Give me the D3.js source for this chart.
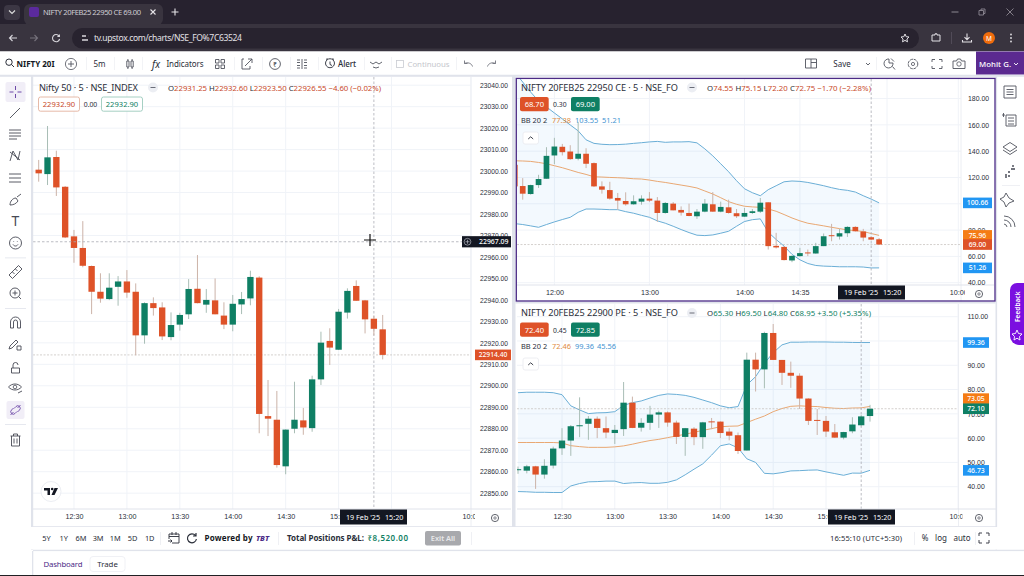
<!DOCTYPE html>
<html>
<head>
<meta charset="utf-8">
<script src="https://cdn.jsdelivr.net/npm/d3@7"></script>
<style>
  html, body { margin: 0; padding: 0; background: #fff; overflow: hidden; }
  svg { display: block; font-family: "Noto Sans", sans-serif; }
</style>
</head>
<body>
<div id="chart"></div>
<script>
// Nifty 50 candles, 12:10 to 15:25
const niftyOpen = [23000.66,22998.6,23006.56,22992.7,22969.6,22964.2,22955.8,22943.8,22940.4,22946.1,22948.6,22943.8,22923.5,22938.5,22936.5,22922.7,22928.5,22933.3,22945.2,22937.8,22939.8,22932.7,22928.5,22937.9,22940.7,22950.4,22885.9,22884.2,22862.5,22880,22883.9,22880.3,22903,22920.9,22916.8,22934.1,22946.5,22939.8,22931.25,22926.3];
const niftyHigh = [23005.2,23021,23009.5,22993,22972.6,22976.7,22956,22952.4,22952.4,22951.1,22953.9,22947.7,22938.9,22941.2,22938.9,22934.2,22934,22949.7,22960.9,22945.1,22950,22938.9,22942.3,22943.7,22953.6,22951,22902.7,22897.6,22879.7,22901.9,22889.7,22904.7,22925.2,22926.8,22935.8,22945.4,22949.1,22940,22932.6,22933];
const niftyLow = [22995.07,22993.5,22988.4,22968.8,22957.3,22955.2,22933.4,22938.7,22939.9,22937.3,22941,22914.2,22919.6,22932.7,22921.3,22921.2,22925.7,22931.1,22938.4,22934,22933.3,22926.4,22925.4,22933.4,22937.5,22877.9,22876.6,22861.9,22858.8,22877.9,22877.2,22878.6,22900.4,22909.7,22916.7,22931.3,22939.5,22924.4,22923.5,22912.3];
const niftyClose = [22998.95,23006.4,22992.4,22969.1,22964.2,22955.9,22943.8,22940.6,22945.7,22948.6,22943.4,22923.5,22938.5,22936.2,22923,22928.3,22933,22945.1,22938.5,22940,22933.3,22928.5,22938.2,22940.4,22950.7,22886.9,22884.7,22863.1,22879.6,22884.2,22880.6,22903,22920.1,22917.8,22934.5,22944.2,22939.6,22930.95,22926.55,22914.4];
const niftyPriceTicks = [22850,22860,22870,22880,22890,22900,22910,22920,22930,22940,22950,22960,22970,22980,22990,23000,23010,23020,23030,23040];
const niftyTimeTicks = ["12:30","13:00","13:30","14:00","14:30","15:00","09:15","10:00"];

// 22950 CE candles and bollinger band, 11:35 to 15:25
const ceOpen = [129.6,113.47,107.4,114.2,119,136.7,143.3,139.7,134.2,138,130.9,113.2,110.4,104.4,102.1,99.6,101.6,103.9,102.4,93,100.1,95.3,93,90.5,94,99.6,94,97.3,92.8,90.2,93,94,101.1,68,67.2,56.9,60.2,63,62.2,67.8,76.1,75.1,77.6,82.4,78.9,74.55,73];
const ceHigh = [129.6,119.5,114.5,122,143,150.1,145.5,144.5,162.2,142.2,131.4,117,116.7,108.2,108.7,106.4,106.4,108.9,105.1,101.3,101.3,98,100.1,96,103.6,108.9,101.6,103.1,96,96.8,96,104.4,101.1,77.9,67.8,60.7,66.5,65.2,70.3,77.4,84.7,80.9,82.9,82.9,80.9,75.15,74];
const ceLow = [113.2,103.1,106.9,112,119,130.1,136.7,133.4,133,127.1,112.7,107.7,103.1,95.5,98.6,99.3,99.3,101.3,86.2,92.5,95,91,90.5,88.5,93.5,93.8,93.5,92.5,89.2,90,92.2,93,65.2,66,56.9,55.6,59.7,60.2,62,67.8,71.5,72.8,74.8,78.9,71.5,72.2,68.8];
const ceClose = [113.2,107.66,114.2,118.8,136.4,143.5,139.2,133.9,138,130.4,113.2,110.7,103.9,102.4,99.6,101.9,103.9,102.4,93,100.6,95,93.3,90.7,94,100.1,94,97.6,93,90.5,93,94.3,100.8,67.8,66.8,57.2,60.4,62.5,62.5,67.8,75.3,75.6,77.6,82.4,79.1,74.3,72.75,69];
const ceUpper = [200,192.5,184.9,178.1,173.6,169,164.5,159.9,155.4,148.6,145.9,145.2,144.9,145,145.3,145.9,146.4,147,147.4,146.7,147,147,147.2,146.3,141.7,136.4,130.4,124.3,117.5,111.4,108.4,106.1,110.7,113.7,116.7,117.3,117,116.2,115,113.7,112.2,110.9,110.2,108.9,106.1,103.55,100.66];
const ceBasis = [132.66,132.5,132.2,131.4,130.4,128.9,127.4,125.6,123.8,122.3,120.5,120.3,120,119.8,119.5,119,118.8,118,117,116.2,115.2,114.2,113.2,112,109.7,107.4,104.6,101.6,99.6,98.1,97.6,97.3,96,94.3,91.8,89.2,87,85.2,84.2,83.2,82.1,81.1,80.1,79.6,78.9,77.38,75.96];
const ceLower = [84.9,84.2,83.2,82.1,84.2,86.2,88,89.7,93.5,96,96,95.8,95.5,95.5,94,92.8,91.2,89.7,87,85.2,82.9,80.4,78.1,76.1,75.8,76.3,77.6,79.1,82.9,86.5,87.9,88.5,78.4,72.8,67.8,61.5,57.4,54.6,53.1,52.6,52.4,52.1,52.1,52.1,51.9,51.21,51.26];
const cePriceTicks = [40,60,80,100,120,140,160,180];
const ceTimeTicks = ["12:00","13:00","14:00","14:35","09:15","10:00"];

// 22900 PE candles and bollinger band, 12:05 to 15:25
const peOpen = [46.9,46.6,48.4,45,48.7,55.8,59,65,65.9,68,64.1,62.1,63.7,74.6,64.3,66.3,69.7,70.6,66.4,60.5,63.9,60.4,66.9,66.8,62.7,61.2,54.9,92.3,88.3,103.3,92.2,86.9,85.7,76.3,67.5,67.1,62.4,60.2,62.8,65.3,69.1];
const peHigh = [48.3,49,48.6,51.3,56.5,64.1,65.4,76.8,69.1,68.9,68.9,65.4,83.1,77.1,68.2,73.3,71.3,71,67.2,64.2,64.5,66.7,68.3,66.9,64.1,62.3,95.2,95.2,103.8,107,92.2,91.5,86.7,76.4,72,69.1,65.8,62.6,68.6,69.5,73.7];
const peLow = [45.3,45.5,39.1,43.3,47.5,53.1,52.7,60.4,59.3,60,60,57.6,60.9,64.1,62.7,63.4,64.2,64.7,57.6,52.7,57.1,55.6,63.7,60,59.1,53.5,54.9,79.2,80.5,92.2,81.9,80.7,72,65.4,61.3,60.5,60.1,59.5,62,64.8,66.8];
const peClose = [47.2,48.4,45,48.6,55.7,59,64.9,65.3,68,64.2,62.3,63.4,74.6,64.2,66.3,69.7,70.6,66.4,60.5,64.1,60.4,66.5,66.7,62.1,61,54.7,92.3,88.3,103.3,92.2,86.9,85.7,76.3,67.1,67.2,62.7,60.2,62.5,65.6,68.95,72.1];
const peUpper = [78.7,78.9,78.9,78.9,78.7,77.9,73.3,71.6,70.1,70.4,70.5,70.9,73.5,74.6,75.3,76.5,77.6,78.2,78,77.6,76.8,75.7,74.6,73.3,72.5,73,81.9,85.3,90.8,95.2,98.4,99.5,99.5,99.6,99.6,99.6,99.5,99.5,99.4,99.36,99.36];
const peBasis = [58.2,58.2,58.2,58.2,58.2,58,56.9,56.5,56.2,56.2,56.2,56.4,56.8,57.5,58.3,59,59.5,60.2,60.9,61.6,62.4,63.2,63.9,64.7,64.9,65,66.4,67.8,69.1,70.9,72.2,73.1,73.3,73.1,73,72.6,72.3,72.2,72.4,72.46,73.05];
const peLower = [38,37.9,37.7,37.7,37.6,37.6,40.3,41.3,42,42.1,42.3,42.3,41.3,41.6,41.7,41.4,41.4,41.8,42.8,44.9,47.2,49.4,53,56.85,57.6,56,51.5,50,45.5,45.3,45.8,46.5,46.6,46.8,46.9,46.1,45.4,44.7,45.6,45.56,46.73];
const pePriceTicks = [40,50,60,70,80,90,100,110];
const peTimeTicks = ["12:30","13:00","13:30","14:00","14:30","15:00","09:15","10:00"];

const rangeButtons = ["5Y","1Y","6M","3M","1M","5D","1D"];

const upColor = "#0f7f64", downColor = "#de5228";
const gridColor = "#f0f3f8", paneLine = "#e0e3eb", textColor = "#2a2e39", toolColor = "#474a55";
const bandColor = "#6aaed6", basisColor = "#e9a873", orangeTag = "#f57c14", blueTag = "#2196f3";

const svg = d3.select("#chart").append("svg")
  .attr("width", 1024).attr("height", 576).attr("viewBox", "0 0 1024 576");
const defs = svg.append("defs");

function rect(g, x, y, w, h, fill, rx) {
  return g.append("rect").attr("x", x).attr("y", y).attr("width", w).attr("height", h)
    .attr("fill", fill).attr("rx", rx || 0);
}
function label(g, x, y, txt, size, fill, anchor, weight) {
  return g.append("text").attr("x", x).attr("y", y).text(txt)
    .attr("font-size", size).attr("fill", fill || textColor)
    .attr("text-anchor", anchor || "start").attr("font-weight", weight || 400);
}
function icon(g, x, y, d, stroke, sw) {
  return g.append("path").attr("transform", "translate(" + x + "," + y + ")").attr("d", d)
    .attr("fill", "none").attr("stroke", stroke || "#50535e").attr("stroke-width", sw || 0.9);
}
function slots(start, n) {
  // bar labels, five minutes apart
  const [h, m] = start.split(":").map(Number);
  return d3.range(n).map(i => {
    const t = h * 60 + m + i * 5;
    return d3.format("02")(Math.floor(t / 60)) + ":" + d3.format("02")(t % 60);
  });
}
const nextSession = slots("09:15", 10);

// one chart pane: grid, band, candles, axes
function drawPane(p) {
  const g = svg.append("g");
  const n = p.open.length;
  const x = d3.scalePoint().domain(slots(p.start, n).concat(nextSession)).range(p.xRange);
  const y = d3.scaleLinear().domain(p.yDomain).range(p.yRange);
  const at = i => x(x.domain()[i]);
  const clipId = "clip" + p.id;
  defs.append("clipPath").attr("id", clipId).append("rect")
    .attr("x", p.left).attr("y", p.top).attr("width", p.right - p.left).attr("height", p.bottom - p.top);
  defs.append("clipPath").attr("id", clipId + "t").append("rect")
    .attr("x", p.left).attr("y", p.bottom).attr("width", p.right - p.left + 4).attr("height", 20);

  // grid
  g.append("g").selectAll("line").data(p.priceTicks).join("line")
    .attr("x1", p.left).attr("x2", p.right).attr("y1", d => y(d)).attr("y2", d => y(d))
    .attr("stroke", gridColor);
  g.append("g").selectAll("line").data(p.timeTicks).join("line")
    .attr("x1", d => x(d)).attr("x2", d => x(d)).attr("y1", p.top).attr("y2", p.bottom)
    .attr("stroke", gridColor);

  const plot = g.append("g").attr("clip-path", "url(#" + clipId + ")");
  if (p.upper) {
    const idx = d3.range(n);
    plot.append("path").datum(idx).attr("fill", "#2196f3").attr("opacity", 0.055)
      .attr("d", d3.area().x(at).y0(i => y(p.lower[i])).y1(i => y(p.upper[i])));
    [[p.upper, bandColor], [p.lower, bandColor], [p.basis, basisColor]].forEach(b => {
      plot.append("path").datum(idx).attr("fill", "none").attr("stroke", b[1]).attr("stroke-width", 1)
        .attr("d", d3.line().x(at).y(i => y(b[0][i])));
    });
  }

  // price line and crosshair
  const lastClose = p.close[n - 1];
  plot.append("line").attr("x1", p.left).attr("x2", p.right).attr("y1", y(lastClose)).attr("y2", y(lastClose))
    .attr("stroke", "#c9c4c0").attr("stroke-dasharray", "2 1.5").attr("stroke-width", 0.8);
  plot.append("line").attr("x1", x(p.crossTime)).attr("x2", x(p.crossTime)).attr("y1", p.top).attr("y2", p.bottom)
    .attr("stroke", "#a9acb4").attr("stroke-dasharray", "2.5 2").attr("stroke-width", 0.8);

  // candles
  const bw = p.step * 0.72;
  const c = plot.append("g").selectAll("g").data(d3.range(n)).join("g");
  c.append("line").attr("x1", at).attr("x2", at)
    .attr("y1", i => y(p.high[i])).attr("y2", i => y(p.low[i]))
    .attr("stroke", i => p.close[i] >= p.open[i] ? "#a8bdb5" : "#ccb3a8").attr("stroke-width", 1);
  c.append("rect").attr("x", i => at(i) - bw / 2).attr("width", bw)
    .attr("y", i => y(Math.max(p.open[i], p.close[i])))
    .attr("height", i => Math.max(1, Math.abs(y(p.open[i]) - y(p.close[i]))))
    .attr("fill", i => p.close[i] >= p.open[i] ? upColor : downColor);

  // axes; labels that sit fully behind a tag are left out
  g.append("line").attr("x1", p.right).attr("x2", p.right).attr("y1", p.top).attr("y2", p.bottom + 17).attr("stroke", "#eceef3");
  g.append("line").attr("x1", p.left).attr("x2", p.axisEnd).attr("y1", p.bottom).attr("y2", p.bottom).attr("stroke", paneLine);
  const yAxis = g.append("g").attr("transform", "translate(" + p.right + ",0)")
    .call(d3.axisRight(y).tickValues(p.priceTicks).tickSize(0).tickPadding(p.tickPad)
      .tickFormat(d => p.hiddenPrices.includes(d) ? "" : d3.format(".2f")(d)));
  yAxis.select(".domain").remove();
  yAxis.selectAll("text").attr("font-size", p.tickSize).attr("font-family", "inherit").attr("fill", textColor);
  const xAxis = g.append("g").attr("clip-path", "url(#" + clipId + "t)").append("g")
    .attr("transform", "translate(0," + p.bottom + ")")
    .call(d3.axisBottom(x).tickValues(p.timeTicks).tickSize(0).tickPadding(5)
      .tickFormat(d => d === "09:15" ? "" : d));
  xAxis.select(".domain").remove();
  xAxis.selectAll("text").attr("font-size", 7.2).attr("font-family", "inherit").attr("fill", textColor);

  // time tag
  const tagY = p.bottom + 0.5;
  rect(g, p.tagX, tagY, 67, p.tagH, "#131722");
  label(g, p.tagX + 6, tagY + p.tagH / 2 + 2.6, "19 Feb '25", 7.2, "#fff");
  label(g, p.tagX + 45, tagY + p.tagH / 2 + 2.6, "15:20", 7.2, "#fff");

  // settings gear
  g.append("circle").attr("cx", p.gearX).attr("cy", p.gearY).attr("r", 3.6).attr("fill", "none").attr("stroke", "#50535e").attr("stroke-width", 0.9);
  g.append("circle").attr("cx", p.gearX).attr("cy", p.gearY).attr("r", 1.2).attr("fill", "none").attr("stroke", "#50535e").attr("stroke-width", 0.7);

  // header
  label(g, p.left + p.titleDx, p.titleY, p.title, p.titleSize, textColor).attr("textLength", p.titleW);
  g.append("circle").attr("cx", p.pillX).attr("cy", p.titleY - 3).attr("r", 5).attr("fill", "#eceef3");
  rect(g, p.pillX - 2.5, p.titleY - 3.5, 5, 1, "#6a6d78");
  const k = x.domain().indexOf(p.crossTime);
  const legCol = p.close[k] >= p.open[k] ? upColor : "#c8492a";
  const t = g.append("text").attr("x", p.ohlcX).attr("y", p.titleY).attr("font-size", 7.8).attr("fill", legCol).attr("textLength", p.ohlcW);
  [["O", p.open[k]], ["H", p.high[k]], ["L", p.low[k]], ["C", p.close[k]]].forEach(d => {
    t.append("tspan").attr("fill", textColor).text(d[0]);
    t.append("tspan").text(d[1].toFixed(2) + " ");
  });
  t.append("tspan").text(p.change);

  const tags = p.tags.map(d => ({ v: d[0], col: d[1], dy: d[2] || 0 }));
  tags.forEach(d => {
    rect(g, p.tagLeft, y(d.v) + d.dy - 5.3, p.tagW, 10.6, d.col);
    label(g, p.tagLeft + p.tagW / 2, y(d.v) + d.dy + 2.6, d.v.toFixed(2), p.tickSize, "#fff", "middle", 500);
  });
  return { g, x, y };
}

rect(svg, 0, 0, 1024, 576, "#ffffff");

const nifty = drawPane({
  id: "a", start: "12:10", open: niftyOpen, high: niftyHigh, low: niftyLow, close: niftyClose,
  xRange: [38.7, 470.9], yDomain: [22860, 23040], yRange: [471.7, 85.2], step: 8.82,
  left: 33, right: 471, top: 77, bottom: 509, axisEnd: 511, hiddenPrices: [],
  priceTicks: niftyPriceTicks, timeTicks: niftyTimeTicks, crossTime: "15:20", tickPad: 9, tickSize: 6.7,
  tagX: 340, tagH: 15, gearX: 495, gearY: 518,
  title: "Nifty 50 · 5 · NSE_INDEX", titleDx: 6, titleY: 90.5, titleSize: 9.2, titleW: 99, pillX: 153,
  ohlcX: 168, ohlcW: 213, change: "−4.60 (−0.02%)",
  tags: [[22914.4, downColor]], tagLeft: 475, tagW: 36
});
// crosshair level and pointer on the left pane
nifty.g.append("line").attr("x1", 33).attr("x2", 462).attr("y1", nifty.y(22967.09)).attr("y2", nifty.y(22967.09))
  .attr("stroke", "#a9acb4").attr("stroke-dasharray", "2.5 2").attr("stroke-width", 0.8);
rect(nifty.g, 462, nifty.y(22967.09) - 5.6, 49, 11.2, "#131722");
nifty.g.append("circle").attr("cx", 467.5).attr("cy", nifty.y(22967.09)).attr("r", 3.4).attr("fill", "none").attr("stroke", "#b2b5be").attr("stroke-width", 0.7);
icon(nifty.g, 467.5, nifty.y(22967.09), "M-2 0H2M0 -2V2", "#b2b5be", 0.7);
label(nifty.g, 479, nifty.y(22967.09) + 2.6, (22967.09).toFixed(2), 6.9, "#fff", "start", 500);
icon(nifty.g, 370, 240, "M-6 0H6M0 -6V6", "#111", 1.2);

const ce = drawPane({
  id: "b", start: "11:35", open: ceOpen, high: ceHigh, low: ceLow, close: ceClose,
  upper: ceUpper, basis: ceBasis, lower: ceLower,
  xRange: [514.8, 958.3], yDomain: [40, 180], yRange: [282.7, 98.5], step: 7.92,
  left: 517, right: 961, top: 79, bottom: 285, axisEnd: 994, hiddenPrices: [100],
  priceTicks: cePriceTicks, timeTicks: ceTimeTicks, crossTime: "15:20", tickPad: 7, tickSize: 6.9,
  tagX: 838, tagH: 14, gearX: 979, gearY: 294,
  title: "NIFTY 20FEB25 22950 CE · 5 · NSE_FO", titleDx: 4, titleY: 90.5, titleSize: 9.2, titleW: 157, pillX: 692,
  ohlcX: 707, ohlcW: 164, change: "−1.70 (−2.28%)",
  tags: [[100.66, blueTag], [75.96, orangeTag], [69, downColor], [51.26, blueTag]], tagLeft: 963, tagW: 29
});

const pe = drawPane({
  id: "c", start: "12:05", open: peOpen, high: peHigh, low: peLow, close: peClose,
  upper: peUpper, basis: peBasis, lower: peLower,
  xRange: [518, 958], yDomain: [40, 110], yRange: [486.7, 316.7], step: 8.8,
  left: 517, right: 958.5, top: 304, bottom: 509, axisEnd: 996, hiddenPrices: [100],
  priceTicks: pePriceTicks, timeTicks: peTimeTicks, crossTime: "15:20", tickPad: 9, tickSize: 6.9,
  tagX: 828, tagH: 15, gearX: 979, gearY: 518,
  title: "NIFTY 20FEB25 22900 PE · 5 · NSE_FO", titleDx: 4, titleY: 316, titleSize: 9.2, titleW: 157, pillX: 692,
  ohlcX: 707, ohlcW: 164, change: "+3.50 (+5.35%)",
  tags: [[99.36, blueTag], [73.05, orangeTag, -7.8], [72.1, upColor], [46.73, blueTag]], tagLeft: 963, tagW: 26
});

// bid / ask boxes
function quoteBoxes(x0, y0, bid, mid, ask, outlined) {
  const w = outlined ? 41 : 28.7, h = 14.2;
  const askX = outlined ? x0 + 63 : x0 + 51;
  if (outlined) {
    rect(svg, x0, y0, w, h, "#fff", 2).attr("stroke", "#e0a892").attr("stroke-width", 0.8);
    rect(svg, askX, y0, w, h, "#fff", 2).attr("stroke", "#8fc4b4").attr("stroke-width", 0.8);
  } else {
    rect(svg, x0, y0, w, h, downColor, 2);
    rect(svg, askX, y0, w, h, upColor, 2);
  }
  label(svg, x0 + w / 2, y0 + 10, bid, 7.6, outlined ? "#c8492a" : "#fff", "middle");
  label(svg, x0 + w + (askX - x0 - w) / 2, y0 + 10, mid, 6.8, textColor, "middle");
  label(svg, askX + w / 2, y0 + 10, ask, 7.6, outlined ? upColor : "#fff", "middle");
}
quoteBoxes(38.5, 97, "22932.90", "0.00", "22932.90", true);
quoteBoxes(520, 97, "68.70", "0.30", "69.00", false);
quoteBoxes(520, 322.5, "72.40", "0.45", "72.85", false);

// bollinger legends and collapse buttons
function bbLegend(y0, basis, upper, lower, lowerX) {
  label(svg, 521, y0, "BB 20 2", 7.4, textColor);
  label(svg, 552, y0, basis.toFixed(2), 7.4, "#e08a3c");
  label(svg, 575, y0, upper.toFixed(2), 7.4, "#3f93d1");
  label(svg, lowerX, y0, lower.toFixed(2), 7.4, "#3f93d1");
  rect(svg, 523, y0 + 9, 15.5, 12, "#fff", 2).attr("stroke", "#e8eaef").attr("stroke-width", 0.8);
  icon(svg, 530.7, y0 + 15, "M-2.5 1L0 -1.2L2.5 1", "#2a2e39", 0.9);
}
bbLegend(123, ceBasis[45], ceUpper[45], ceLower[45], 602);
bbLegend(349, peBasis[39], peUpper[39], peLower[39], 597);

// watermark logo
svg.append("circle").attr("cx", 51).attr("cy", 491.5).attr("r", 10).attr("fill", "#fff").attr("stroke", "#eceef3");
svg.append("path").attr("transform", "translate(51,491.5)").attr("fill", "#131722")
  .attr("d", "M-7 -3.5H-1V3.5H-3.5V-1H-7ZM3.5 -3.5H7L3.5 3.5H0.5Z");
svg.append("circle").attr("cx", 1.2 + 51).attr("cy", 489).attr("r", 1.3).attr("fill", "#131722");

// separators around panes
rect(svg, 31, 75, 2.2, 475, paneLine);
rect(svg, 0, 74.5, 1024, 2.3, paneLine);
rect(svg, 512, 76, 3.5, 451, paneLine);
rect(svg, 995.5, 76, 1.6, 475, paneLine);
rect(svg, 33, 526, 963, 0.8, paneLine);
rect(svg, 33, 549.5, 991, 1.8, paneLine);
rect(svg, 515.5, 301.5, 480, 2, paneLine);
svg.append("rect").attr("x", 516.3).attr("y", 78.4).attr("width", 478.7).attr("height", 222.6)
  .attr("fill", "none").attr("stroke", "#4b2a86").attr("stroke-width", 1.3);

// browser chrome
rect(svg, 0, 0, 1024, 24, "#27222f");
rect(svg, 0, 24, 1024, 27.5, "#39343f");
rect(svg, 24, 4, 139, 21, "#39343f", 6);
rect(svg, 4, 5, 16, 15, "#3c3744", 4);
icon(svg, 12, 12, "M-3 -1.5L0 1.5L3 -1.5", "#ddd", 1.1);
rect(svg, 29, 7, 10, 10, "#5b2a9d", 2);
label(svg, 43, 15, "NIFTY 20FEB25 22950 CE 69.00", 7.6, "#cfcdd3").attr("textLength", 98);
icon(svg, 153, 12, "M-2.5 -2.5L2.5 2.5M2.5 -2.5L-2.5 2.5", "#e6e4e8", 1.1);
icon(svg, 175, 12, "M-3.5 0H3.5M0 -3.5V3.5", "#e6e4e8", 1.1);
rect(svg, 72, 28, 847, 20.5, "#28232f", 10);
icon(svg, 13, 38, "M4 0H-3.5M-0.5 -3L-3.5 0L-0.5 3", "#d8d6dc", 1.1);
icon(svg, 34, 38, "M-4 0H3.5M0.5 -3L3.5 0L0.5 3", "#76727c", 1.1);
icon(svg, 56, 38, "M3 -2A3.6 3.6 0 1 0 3.6 1M3.4 -3.6V-1.6H1.4", "#d8d6dc", 1.1);
icon(svg, 85, 38, "M-3 -2H1M-3 2H3M3 -2H3.1M-3 2H-2.9", "#d8d6dc", 1.3);
label(svg, 94, 41, "tv.upstox.com/charts/NSE_FO%7C63524", 8.6, "#e3e1e6").attr("textLength", 148);
icon(svg, 905, 38, "M0 -4L1.2 -1.3L4 -1L1.9 1L2.5 3.8L0 2.4L-2.5 3.8L-1.9 1L-4 -1L-1.2 -1.3Z", "#e3e1e6", 1);
icon(svg, 936, 38, "M-4 -3H-1V-4.2H1V-3H4V3H-4Z", "#e3e1e6", 1);
rect(svg, 951, 32, 0.7, 12, "#5c5763");
icon(svg, 967, 38, "M0 -4.5V1.5M-2.5 -0.8L0 1.8L2.5 -0.8M-4.5 2V4H4.5V2", "#e3e1e6", 1.1);
svg.append("circle").attr("cx", 989).attr("cy", 38).attr("r", 6).attr("fill", "#f06c0c");
label(svg, 989, 40.5, "M", 6.5, "#fff", "middle");
svg.append("g").selectAll("circle").data([-3.5, 0, 3.5]).join("circle")
  .attr("cx", 1011).attr("cy", d => 38 + d).attr("r", 0.9).attr("fill", "#e3e1e6");
icon(svg, 955, 12, "M-3.5 0H3.5", "#8d8993", 1);
icon(svg, 982, 12, "M-3 -1.5H1.5V3H-3ZM-1 -1.5V-3H3V1.5H1.5", "#8d8993", 0.9);
icon(svg, 1010, 12, "M-3.5 -3.5L3.5 3.5M3.5 -3.5L-3.5 3.5", "#8d8993", 0.9);

// top toolbar
rect(svg, 0, 51.5, 1024, 23, "#fff");
icon(svg, 10, 63, "M-1 -4A3.2 3.2 0 1 1 -1 2.4A3.2 3.2 0 1 1 -1 -4M1.4 1.4L4 4", "#2a2e39", 1);
label(svg, 16.5, 66.5, "NIFTY 20I", 8, "#131722", "start", 700).attr("textLength", 38);
svg.append("circle").attr("cx", 71).attr("cy", 64).attr("r", 5.6).attr("fill", "none").attr("stroke", "#50535e").attr("stroke-width", 0.8);
icon(svg, 71, 64, "M-3 0H3M0 -3V3");
label(svg, 99.5, 66.5, "5m", 8, textColor, "middle");
icon(svg, 130, 64, "M-3.2 -3H-1V3H-3.2ZM-2.1 -5V-3M-2.1 3V5M1 -3H3.2V3H1ZM2.1 -5V-3M2.1 3V5");
label(svg, 156, 68, "fx", 10, textColor, "middle").attr("font-style", "italic");
label(svg, 166.5, 66.5, "Indicators", 8, textColor).attr("textLength", 37);
icon(svg, 220, 64, "M-4.5 -4.5H-1V-1H-4.5ZM1 -4.5H4.5V-1H1ZM-4.5 1H-1V4.5H-4.5ZM1 1H4.5V4.5H1Z");
icon(svg, 247, 64, "M-5 -2V5H3V2M-3 -5H-5V-2M-2 2L5 -5M1 -5H5V-1");
svg.append("circle").attr("cx", 275).attr("cy", 64).attr("r", 5.4).attr("fill", "none").attr("stroke", "#50535e").attr("stroke-width", 0.9);
label(svg, 275, 66.5, "₹", 7, textColor, "middle");
icon(svg, 302, 64, "M0 -5V5M-5 -4H-2M-5 -1.5H-2M-5 1.5H-2M-5 4H-2M2 -4H5M2 -1.5H5M2 1.5H5M2 4H5");
icon(svg, 330, 64.5, "M-1.5 -5.5A4.5 4.5 0 1 0 1.5 -5.5A4.5 4.5 0 0 0 -1.5 -5.5M0 -3V0L2 1M-4 -5L-2.5 -6M4 -5L2.5 -6", "#2a2e39");
label(svg, 338, 66.5, "Alert", 8, textColor, "start", 500).attr("textLength", 18);
icon(svg, 376, 64, "M-6 -2L-3 0L0 -2L3 0L6 -2M-3 3L0 4L3 3");
rect(svg, 396.5, 60.5, 7, 7, "#fff").attr("stroke", "#c9cbd2").attr("stroke-width", 0.8);
label(svg, 407.5, 66.5, "Continuous", 7.8, "#c4c6cc").attr("textLength", 42);
icon(svg, 468.5, 64, "M4 2.5C3 -1 -1 -2 -4 -0.5M-4 -3.5V-0.5H-1", "#6f727c");
icon(svg, 491.5, 64, "M-4 2.5C-3 -1 1 -2 4 -0.5M4 -3.5V-0.5H1", "#6f727c");
[86, 114, 142, 234, 262, 290, 318, 364, 391, 456, 876].forEach(d => rect(svg, d, 57, 0.7, 13, "#eceef2"));
icon(svg, 811, 63.5, "M-5.5 -4.5H5.5V4.5H-5.5ZM0 -4.5V4.5M0 -1H5.5");
label(svg, 842, 66.5, "Save", 8, textColor, "middle");
icon(svg, 868, 64, "M-2 -1L0 1L2 -1");
icon(svg, 890, 63.5, "M-1 -4.5A4.5 4.5 0 1 0 3 -0.5H-1ZM1 -5L4 -2M2.5 3L5 6");
svg.append("circle").attr("cx", 913).attr("cy", 64).attr("r", 4.8).attr("fill", "none").attr("stroke", "#50535e").attr("stroke-width", 0.9).attr("stroke-dasharray", "3 0.8");
svg.append("circle").attr("cx", 913).attr("cy", 64).attr("r", 1.6).attr("fill", "none").attr("stroke", "#50535e").attr("stroke-width", 0.8);
icon(svg, 937, 64, "M-5 -2V-4.5H-2M2 -4.5H5V-2M5 2V4.5H2M-2 4.5H-5V2");
icon(svg, 959, 64, "M-6 -3H-2.5L-1.5 -5H1.5L2.5 -3H6V4.5H-6Z");
svg.append("circle").attr("cx", 959).attr("cy", 64).attr("r", 2.2).attr("fill", "none").attr("stroke", "#50535e").attr("stroke-width", 0.8);
rect(svg, 976, 51.5, 48, 23, "#5b2a90");
label(svg, 979, 66.5, "Mohit G.", 7.8, "#fff", "start", 500).attr("textLength", 32);
icon(svg, 1016, 64, "M-2 -1L0 1L2 -1", "#fff");

// left drawing tools
const tools = svg.append("g");
rect(tools, 5.5, 82, 20, 20, "#f1eef7", 2);
icon(tools, 15.5, 92, "M-6 0H-2M2 0H6M0 -6V-2M0 2V6", "#6e4aa8", 1);
icon(tools, 15, 113, "M-5 5L5 -5", toolColor);
icon(tools, 15, 134, "M-6 -4H6M-6 -1H6M-6 2H6M-6 5H2", toolColor);
icon(tools, 15, 156, "M-5 5L-2 -5L3 4L5 -5M-5 -4L5 4", toolColor);
icon(tools, 15, 178, "M-6 -4H6M-6 0H6M-6 4H6", toolColor);
icon(tools, 15, 200, "M-5 5C-5 1 -2 -2 1 -2L3 1C1 4 -2 5 -5 5M2 -3L6 -6", toolColor);
label(tools, 15.5, 226, "T", 14, toolColor, "middle");
tools.append("circle").attr("cx", 15.5).attr("cy", 243).attr("r", 6).attr("fill", "none").attr("stroke", toolColor).attr("stroke-width", 0.9);
icon(tools, 15.5, 243, "M-2.5 1.5C-1 3.5 1 3.5 2.5 1.5M-2 -1.5H-1.4M1.4 -1.5H2", toolColor);
rect(tools, 5, 257.5, 21, 0.8, "#e0e3eb");
icon(tools, 15.5, 272, "M-6.5 3L3 -6.5L6.5 -3L-3 6.5ZM-3 0L-1 2M0 -3L2 -1", toolColor);
tools.append("circle").attr("cx", 15).attr("cy", 293).attr("r", 5).attr("fill", "none").attr("stroke", toolColor).attr("stroke-width", 0.9);
icon(tools, 15, 293, "M-2.5 0H2.5M0 -2.5V2.5M3.6 3.6L6 6", toolColor);
rect(tools, 5, 308, 21, 0.8, "#e0e3eb");
icon(tools, 15.5, 323, "M-5 5V-1A5 5 0 0 1 5 -1V5H2V-1A2 2 0 0 0 -2 -1V5Z", toolColor);
icon(tools, 14, 344, "M-5 5L-4 2L2 -4L4 -2L-2 4ZM3 2H7V6H3Z", toolColor);
icon(tools, 15.5, 368, "M-4 0H4V5H-4ZM-2.5 0V-3A2.5 2.5 0 0 1 2.5 -3", toolColor);
icon(tools, 15, 388, "M-6.5 -1C-3 -5 3 -5 6.5 -1C3 3 -3 3 -6.5 -1ZM3 5L7 3", toolColor);
tools.append("circle").attr("cx", 15).attr("cy", 387).attr("r", 1.8).attr("fill", "none").attr("stroke", toolColor).attr("stroke-width", 0.8);
rect(tools, 6.5, 401, 18, 18, "#f1eef7", 2);
icon(tools, 15.5, 410, "M-5 5L-2 2M2 -2L5 -5M-1.5 -1.5L0.5 -3.5A2 2 0 0 1 4 0L2 2M1.5 1.5L-0.5 3.5A2 2 0 0 1 -4 0L-2 -2", "#6e4aa8");
rect(tools, 5, 424, 21, 0.8, "#e0e3eb");
icon(tools, 15.5, 440, "M-5 -4H5M-2 -4V-6H2V-4M-4 -4V6H4V-4M-1.5 -1.5V3.5M1.5 -1.5V3.5", toolColor);

// right side icons
icon(svg, 1010, 92, "M-6 -6H6V6H-6ZM-3.5 -2.5H3.5M-3.5 0H3.5M-3.5 2.5H3.5", "#50535e");
icon(svg, 1010, 120, "M-4 -5H6V6H-4ZM-2 -2H4M-2 1H4M-2 4H4M-8 -5H-5M-6.5 -7V-3", "#50535e");
icon(svg, 1010, 147, "M-7 0L0 -4.5L7 0L0 4.5ZM-7 3L0 7.5L7 3", "#50535e");
icon(svg, 1010, 172, "M-5 5H-3M-5 3H-3M-1 1V-1M-1 3V5M2 -4V-2M4 -4V-2M2 -6H4", "#50535e", 1.6);
rect(svg, 1002, 185, 18, 0.7, "#e8eaef");
icon(svg, 1007, 199, "M-1 -6L2 -1L7 2L2 4L-1 8L-3 3L-7 0L-3 -2Z", "#50535e");
icon(svg, 1010, 222, "M-6 -6A11 11 0 0 1 5 5M-6 -2A7 7 0 0 1 1 5M-6 2A3.5 3.5 0 0 1 -3 5", "#50535e");

// feedback tab
svg.append("path").attr("d", "M1024 283H1017A7 7 0 0 0 1010 290V336A9 9 0 0 0 1019 345H1024Z").attr("fill", "#7b0fe0");
label(svg, 0, 0, "Feedback", 6.6, "#fff", "start", 600).attr("transform", "translate(1020,322) rotate(-90)");
icon(svg, 1017, 335, "M0 -5L1.5 -1.5L5 -1L2.5 1.5L3 5L0 3.2L-3 5L-2.5 1.5L-5 -1L-1.5 -1.5Z", "#fff");

// bottom bar
rect(svg, 0, 527, 1024, 22.5, "#fff");
rangeButtons.forEach((d, i) => label(svg, 46.5 + i * 17.2, 541, d, 7.4, textColor, "middle"));
rect(svg, 160, 532, 0.7, 13, "#e8eaef");
icon(svg, 174, 538, "M-5 -4H5V5H-2M-5 -4V1M-2 -6V-3M2 -6V-3M-5 -1.5H5M-6 3H-2M-3.5 1.5L-2 3L-3.5 4.5", "#2a2e39");
icon(svg, 192, 538, "M3.5 -2.5A4.5 4.5 0 1 0 4.4 1M4 -5V-2H1", "#2a2e39", 1.2);
label(svg, 204.5, 541, "Powered by", 8, "#131722", "start", 700).attr("textLength", 48);
label(svg, 256, 541, "TBT", 7.6, "#4b2a86", "start", 800).attr("font-style", "italic").attr("textLength", 13);
rect(svg, 278, 532, 0.7, 13, "#e8eaef");
label(svg, 287, 541, "Total Positions P&L:", 8, "#2a2e39", "start", 700).attr("textLength", 77);
label(svg, 367.5, 541, "₹8,520.00", 8, upColor, "start", 600).attr("textLength", 40.5);
rect(svg, 425, 531, 36, 14.5, "#a8a9ad", 2);
label(svg, 443, 541, "Exit All", 7.4, "#e8e8ea", "middle", 600);
rect(svg, 471, 532, 0.7, 13, "#e8eaef");
label(svg, 866, 541, "16:55:10 (UTC+5:30)", 7.6, textColor, "middle").attr("textLength", 72);
rect(svg, 914, 532, 0.7, 13, "#e8eaef");
label(svg, 925, 541, "%", 8, textColor, "middle");
label(svg, 941, 541, "log", 8, textColor, "middle");
label(svg, 962, 541, "auto", 8, textColor, "middle");
rect(svg, 975, 532, 0.7, 13, "#e8eaef");
icon(svg, 984, 538, "M-5 -2V-5H-2M2 -5H5V-2M5 2V5H2M-2 5H-5V2", "#2a2e39");

// dashboard row
rect(svg, 0, 551.3, 1024, 23.5, "#fff");
rect(svg, 32, 551, 1.3, 24, paneLine);
label(svg, 43.5, 567, "Dashboard", 7.8, "#4b2a86").attr("textLength", 39);
rect(svg, 90, 556.5, 35, 15, "#fff", 3).attr("stroke", "#eceef2").attr("stroke-width", 0.8);
label(svg, 107.5, 567, "Trade", 7.8, textColor, "middle");
rect(svg, 0, 575, 1024, 1, "#202024");
</script>
</body>
</html>
